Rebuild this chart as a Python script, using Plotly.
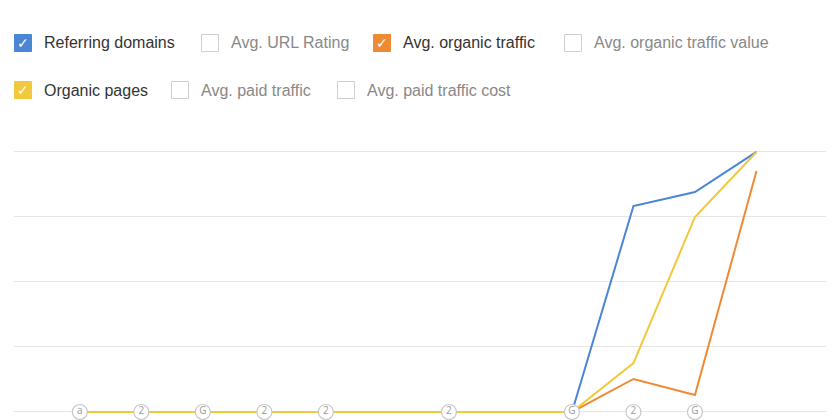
import plotly.graph_objects as go

x_idx = [0, 1, 2, 3, 4, 6, 8, 9, 10, 11]
referring = [0, 0, 0, 0, 0, 0, 0, 79.2, 84.6, 100]
organic_traffic = [0, 0, 0, 0, 0, 0, 0, 12.7, 6.5, 92.7]
organic_pages = [0, 0, 0, 0, 0, 0, 0, 18.8, 75, 100]
ann_x = [0, 1, 2, 3, 4, 6, 8, 9, 10]
ann_labels = ["a", "2", "G", "2", "2", "2", "G", "2", "G"]

legend_items = [
    ("Referring domains", True, "#4a86d4", 23, 43),
    ("Avg. URL Rating", False, None, 210, 43),
    ("Avg. organic traffic", True, "#ef8a34", 382, 43),
    ("Avg. organic traffic value", False, None, 573, 43),
    ("Organic pages", True, "#f0c93c", 23, 90),
    ("Avg. paid traffic", False, None, 180, 90),
    ("Avg. paid traffic cost", False, None, 346, 90),
]

fig = go.Figure()
fig.add_trace(go.Scatter(x=x_idx, y=referring, mode="lines", line=dict(color="#4a86d4", width=2)))
fig.add_trace(go.Scatter(x=x_idx, y=organic_traffic, mode="lines", line=dict(color="#ef8a34", width=2)))
fig.add_trace(go.Scatter(x=x_idx, y=organic_pages, mode="lines", line=dict(color="#f0c93c", width=2)))
fig.add_trace(go.Scatter(x=ann_x, y=[0]*len(ann_x), mode="markers+text", text=ann_labels,
                         textposition="middle center", textfont=dict(size=10, color="#999"),
                         marker=dict(size=15, color="white", line=dict(color="#c8c8c8", width=1.2))))

OFF = 8  # page body offset
L, R, T, B = 14 - OFF, 840 - 826 + OFF, 140 - OFF, OFF
PW, PH = 840 - L - R, 420 - T - B
def px(x): return (x - OFF - L) / PW
def py(y): return (420 - B - (y - OFF)) / PH

shapes, anns = [], []
for label, checked, col, cx, cy in legend_items:
    shapes.append(dict(type="rect", xref="paper", yref="paper",
                       x0=px(cx-8.5), x1=px(cx+8.5), y0=py(cy+8.5), y1=py(cy-8.5),
                       fillcolor=col if checked else "white",
                       line=dict(color=col if checked else "#cfcfcf", width=1)))
    if checked:
        anns.append(dict(xref="paper", yref="paper", x=px(cx), y=py(cy), text="✓", showarrow=False,
                         font=dict(color="white", size=14, family="DejaVu Sans"), xanchor="center", yanchor="middle"))
    anns.append(dict(xref="paper", yref="paper", x=px(cx+19), y=py(cy), text=label, showarrow=False,
                     xanchor="left", yanchor="middle",
                     font=dict(size=16, color="#333" if checked else "#888", family="Helvetica, Liberation Sans, Arial")))

fig.update_layout(
    width=840, height=420, margin=dict(l=L, r=R, t=T, b=B),
    paper_bgcolor="white", plot_bgcolor="white", showlegend=False,
    xaxis=dict(range=[-1.07, 12.13], showgrid=False, zeroline=False, showticklabels=False),
    yaxis=dict(range=[-3.08, 104.6], tickvals=[0, 25, 50, 75, 100], showticklabels=False,
               gridcolor="#e6e6e6", zeroline=False),
    shapes=shapes, annotations=anns,
)
fig.write_html("out.html")
